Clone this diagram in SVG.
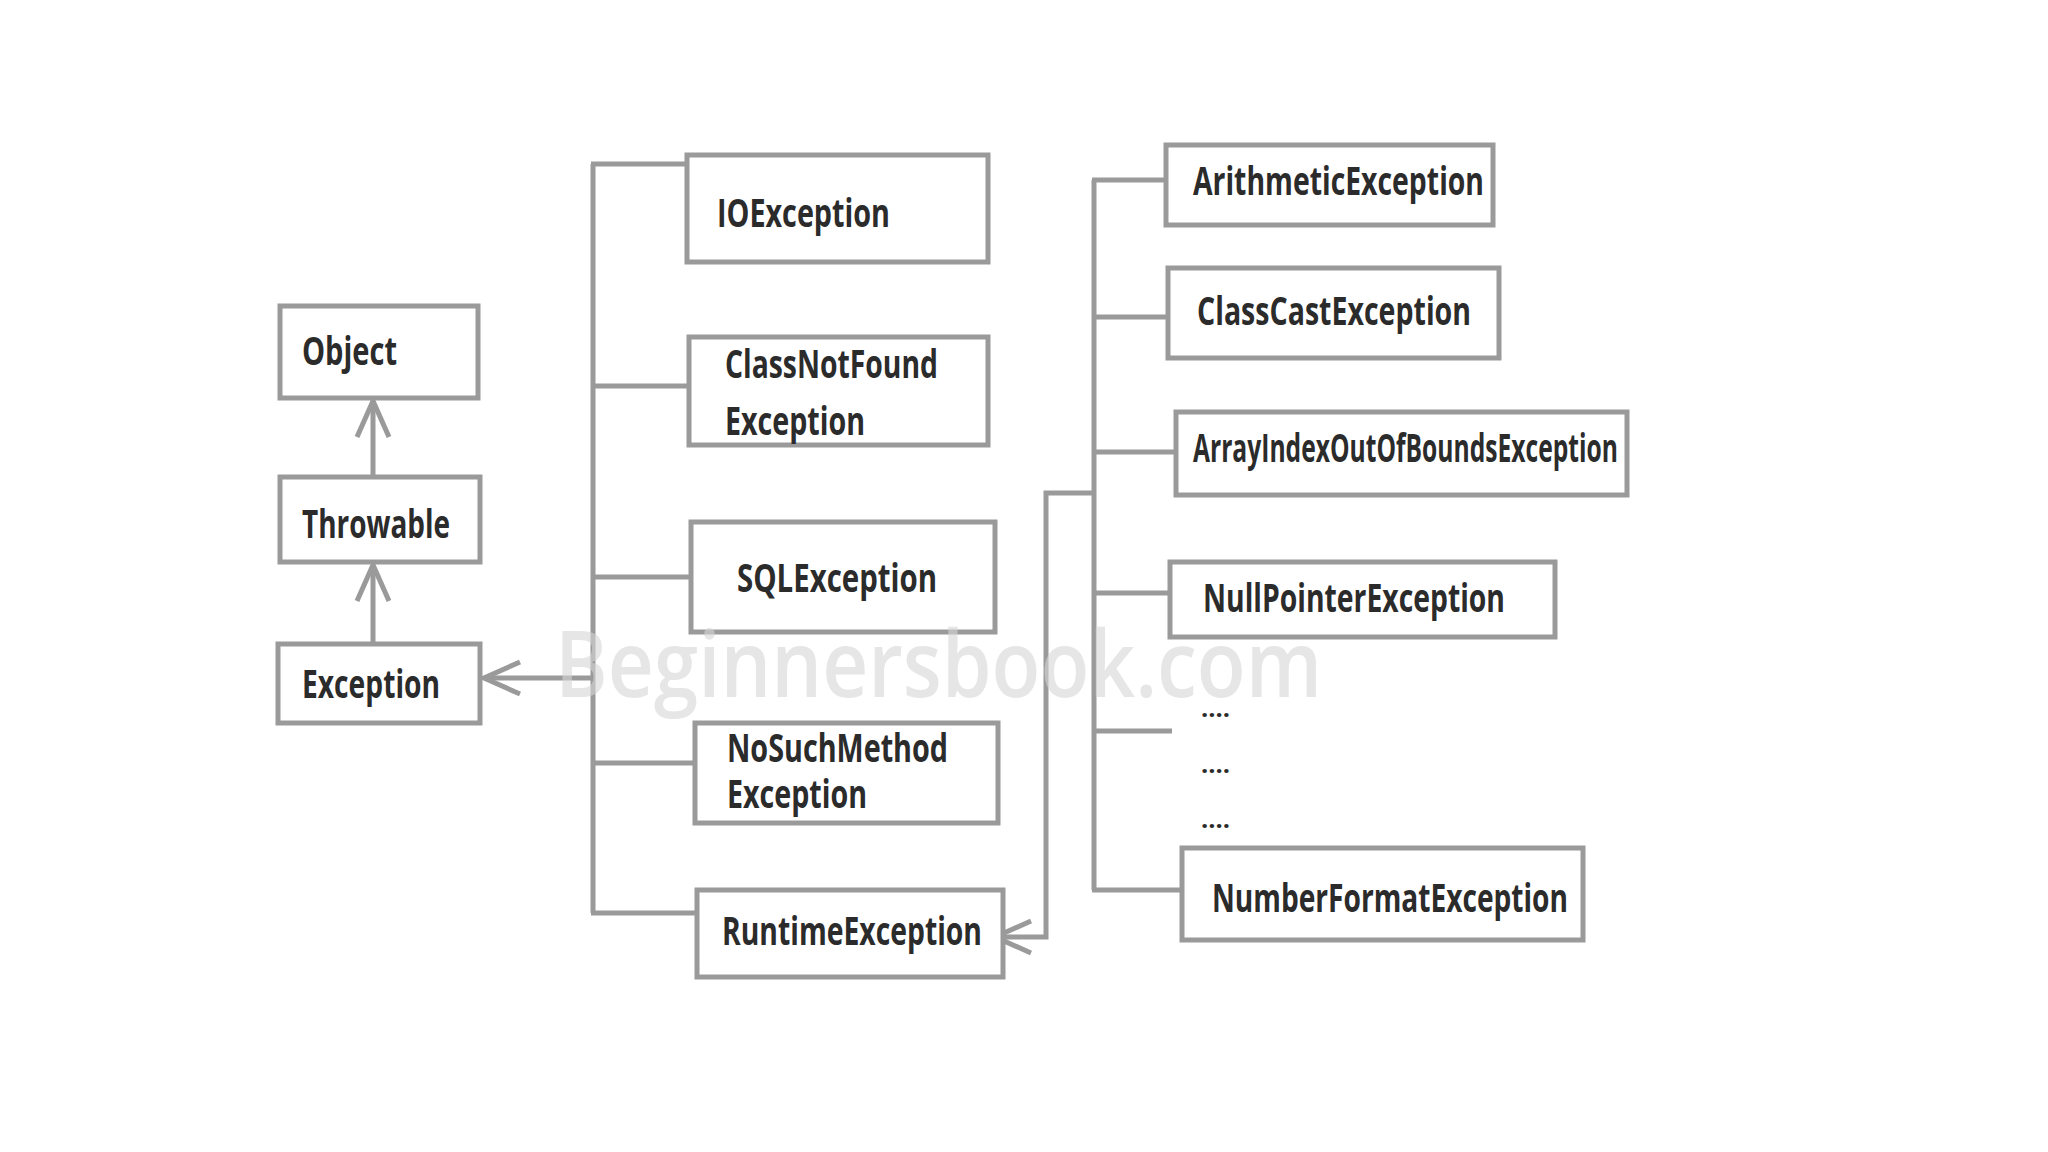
<svg xmlns="http://www.w3.org/2000/svg" width="2048" height="1152" viewBox="0 0 2048 1152">
<defs>
<style>
.box{fill:#fff;stroke:#9a9a9a;stroke-width:5}
.ln{fill:none;stroke:#9a9a9a;stroke-width:5}
.t{font-family:"Open Sans","Liberation Sans",sans-serif;font-weight:700;font-size:40px;fill:#2b2b2b}
.d{font-family:"Open Sans","Liberation Sans",sans-serif;font-weight:700;font-size:24px;fill:#2b2b2b}
.wm{font-family:"Open Sans","Liberation Sans",sans-serif;font-weight:600;font-size:92px;fill:#d6d6d6;opacity:0.6}
</style>
<marker id="chev" markerUnits="userSpaceOnUse" viewBox="-40 -20 44 40" refX="0" refY="0" markerWidth="44" markerHeight="40" orient="auto" overflow="visible">
<path d="M -36 -16 L 0 0 L -36 16" fill="none" stroke="#9a9a9a" stroke-width="5"/>
</marker>
</defs>
<rect width="2048" height="1152" fill="#fff"/>
<g id="connectors">
<line class="ln" x1="373" y1="477" x2="373" y2="401" marker-end="url(#chev)"/>
<line class="ln" x1="373" y1="644" x2="373" y2="565" marker-end="url(#chev)"/>
<line class="ln" x1="593" y1="678" x2="484" y2="678" marker-end="url(#chev)"/>
<path class="ln" d="M 593 164 L 593 913"/>
<path class="ln" d="M 591 164 L 687 164"/>
<path class="ln" d="M 593 386 L 689 386"/>
<path class="ln" d="M 593 577 L 691 577"/>
<path class="ln" d="M 593 763 L 695 763"/>
<path class="ln" d="M 591 913 L 697 913"/>
<path class="ln" d="M 1094 180 L 1094 890"/>
<path class="ln" d="M 1092 180 L 1166 180"/>
<path class="ln" d="M 1094 317 L 1168 317"/>
<path class="ln" d="M 1094 452 L 1176 452"/>
<path class="ln" d="M 1094 593 L 1170 593"/>
<path class="ln" d="M 1094 731 L 1172 731"/>
<path class="ln" d="M 1092 890 L 1182 890"/>
<path class="ln" d="M 1094 493 L 1046 493 L 1046 937 L 995 937" marker-end="url(#chev)"/>
</g>
<g id="node-object"><rect class="box" x="280" y="306" width="198" height="92"/><text class="t" x="302" y="365" textLength="95" lengthAdjust="spacingAndGlyphs">Object</text></g>
<g id="node-throwable"><rect class="box" x="280" y="477" width="200" height="85"/><text class="t" x="302" y="538" textLength="148" lengthAdjust="spacingAndGlyphs">Throwable</text></g>
<g id="node-exception"><rect class="box" x="278" y="644" width="202" height="79"/><text class="t" x="302" y="698" textLength="138" lengthAdjust="spacingAndGlyphs">Exception</text></g>
<g id="node-ioexception"><rect class="box" x="687" y="155" width="301" height="107"/><text class="t" x="717" y="227" textLength="173" lengthAdjust="spacingAndGlyphs">IOException</text></g>
<g id="node-classnotfound"><rect class="box" x="689" y="337" width="299" height="108"/><text class="t" x="725" y="378" textLength="213" lengthAdjust="spacingAndGlyphs">ClassNotFound</text><text class="t" x="725" y="435" textLength="140" lengthAdjust="spacingAndGlyphs">Exception</text></g>
<g id="node-sqlexception"><rect class="box" x="691" y="522" width="304" height="110"/><text class="t" x="737" y="592" textLength="200" lengthAdjust="spacingAndGlyphs">SQLException</text></g>
<g id="node-nosuchmethod"><rect class="box" x="695" y="723" width="303" height="100"/><text class="t" x="727" y="762" textLength="221" lengthAdjust="spacingAndGlyphs">NoSuchMethod</text><text class="t" x="727" y="808" textLength="140" lengthAdjust="spacingAndGlyphs">Exception</text></g>
<g id="node-runtime"><rect class="box" x="697" y="890" width="306" height="87"/><text class="t" x="722" y="945" textLength="260" lengthAdjust="spacingAndGlyphs">RuntimeException</text></g>
<g id="node-arithmetic"><rect class="box" x="1166" y="145" width="327" height="80"/><text class="t" x="1193" y="195" textLength="291" lengthAdjust="spacingAndGlyphs">ArithmeticException</text></g>
<g id="node-classcast"><rect class="box" x="1168" y="268" width="331" height="90"/><text class="t" x="1197" y="325" textLength="274" lengthAdjust="spacingAndGlyphs">ClassCastException</text></g>
<g id="node-arrayindex"><rect class="box" x="1176" y="412" width="451" height="83"/><text class="t" x="1193" y="462" font-size="34" textLength="425" lengthAdjust="spacingAndGlyphs">ArrayIndexOutOfBoundsException</text></g>
<g id="node-nullpointer"><rect class="box" x="1170" y="562" width="385" height="75"/><text class="t" x="1203" y="612" textLength="302" lengthAdjust="spacingAndGlyphs">NullPointerException</text></g>
<g id="node-dots"><text class="d" x="1201" y="717" textLength="29" lengthAdjust="spacingAndGlyphs">....</text><text class="d" x="1201" y="773" textLength="29" lengthAdjust="spacingAndGlyphs">....</text><text class="d" x="1201" y="828" textLength="29" lengthAdjust="spacingAndGlyphs">....</text></g>
<g id="node-numberformat"><rect class="box" x="1182" y="848" width="401" height="92"/><text class="t" x="1212" y="912" textLength="356" lengthAdjust="spacingAndGlyphs">NumberFormatException</text></g>
<text class="wm" x="555" y="697" textLength="767" lengthAdjust="spacingAndGlyphs">Beginnersbook.com</text>
</svg>
